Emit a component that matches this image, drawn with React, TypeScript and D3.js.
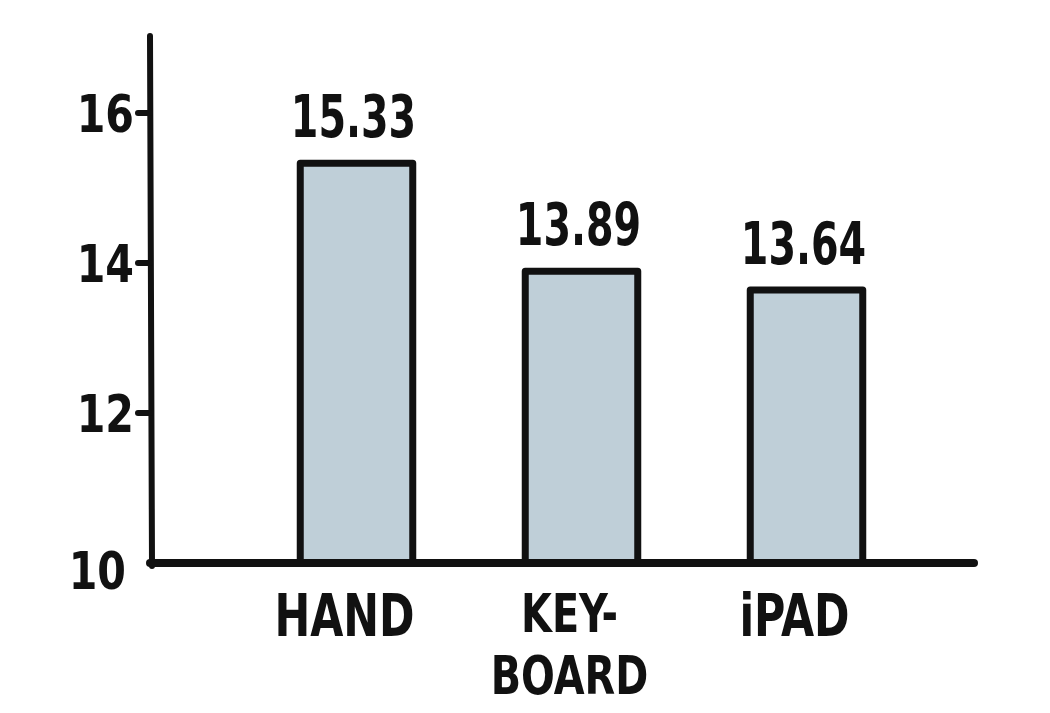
import React from "react";
import * as d3 from "d3";

const categories = ["HAND", "KEYBOARD", "iPAD"];
const categoryLines = [["HAND"], ["KEY-", "BOARD"], ["iPAD"]];
const values = [15.33, 13.89, 13.64];
const valueLabels = ["15.33", "13.89", "13.64"];
const yTicks = [10, 12, 14, 16];

const W = 1050;
const H = 713;
const FONT = "'Liberation Sans Narrow', 'DejaVu Sans Condensed', 'Arial Narrow', sans-serif";

export default function App() {
  const y = d3.scaleLinear().domain([10, 17]).range([563, 38]);
  const x = d3
    .scaleBand<string>()
    .domain(categories)
    .range([244, 919])
    .paddingInner(0.5)
    .paddingOuter(0.25);
  const axisX = 150;
  const baseY = y(10);
  const bw = x.bandwidth();

  return (
    <svg
      width={W}
      height={H}
      style={{ position: "absolute", left: 0, top: 0, background: "#fff" }}
      fontFamily={FONT}
    >
      {/* bars */}
      {categories.map((c, i) => {
        const x0 = x(c)!;
        const top = y(values[i]);
        const cx = x0 + bw / 2;
        const lines = categoryLines[i];
        return (
          <g key={c}>
            <rect x={x0} y={top} width={bw} height={baseY - top} fill="#bfcfd8" />
            <path
              d={`M${x0},${baseY} L${x0},${top} L${x0 + bw},${top} L${x0 + bw},${baseY}`}
              fill="none"
              stroke="#111"
              strokeWidth={7}
              strokeLinejoin="round"
              strokeLinecap="round"
            />
            <text
              transform={`translate(${cx - 3},${top - 26}) scale(0.76,1)`}
              textAnchor="middle"
              fontSize={58}
              fontWeight={700}
              fill="#111"
              style={{ fontStretch: "condensed" }}
            >
              {valueLabels[i]}
            </text>
            {lines.map((ln, j) => (
              <text
                key={j}
                transform={`translate(${cx - 12},${(lines.length > 1 ? 632 : 636) + j * 62}) scale(0.82,1)`}
                textAnchor="middle"
                fontSize={lines.length > 1 ? 54 : 58}
                fontWeight={700}
                fill="#111"
                style={{ fontStretch: "condensed" }}
              >
                {ln}
              </text>
            ))}
          </g>
        );
      })}

      {/* y axis */}
      <line x1={axisX} y1={36} x2={axisX + 2} y2={566} stroke="#111" strokeWidth={6} strokeLinecap="round" />
      {/* baseline */}
      <line x1={axisX} y1={baseY} x2={974} y2={baseY} stroke="#111" strokeWidth={8} strokeLinecap="round" />

      {/* ticks */}
      {yTicks.map((t) => (
        <g key={t}>
          {t !== 10 && (
            <line x1={138} y1={y(t)} x2={axisX} y2={y(t)} stroke="#111" strokeWidth={6} strokeLinecap="round" />
          )}
          <text
            transform={`translate(${t === 10 ? 126 : 134},${y(t) + (t === 10 ? 26 : 19)}) scale(0.88,1)`}
            textAnchor="end"
            fontSize={52}
            fontWeight={700}
            fill="#111"
            style={{ fontStretch: "condensed" }}
          >
            {t}
          </text>
        </g>
      ))}
    </svg>
  );
}
